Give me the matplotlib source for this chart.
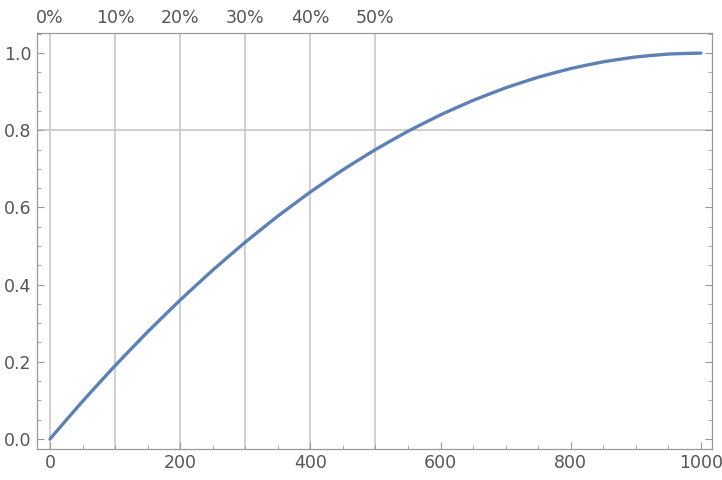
import numpy as np
import matplotlib.pyplot as plt
from matplotlib.ticker import MultipleLocator

# values
x_vals = [0, 25, 50, 75, 100, 125, 150, 175, 200, 225, 250, 275, 300, 325, 350,
          375, 400, 425, 450, 475, 500, 525, 550, 575, 600, 625, 650, 675, 700,
          725, 750, 775, 800, 825, 850, 875, 900, 925, 950, 975, 1000]
y_vals = [0.0, 0.049, 0.0975, 0.144, 0.19, 0.234, 0.2775, 0.319, 0.36, 0.399,
          0.4375, 0.474, 0.51, 0.544, 0.5775, 0.609, 0.64, 0.669, 0.6975, 0.724,
          0.75, 0.774, 0.7975, 0.819, 0.84, 0.859, 0.8775, 0.894, 0.91, 0.924,
          0.9375, 0.949, 0.96, 0.969, 0.9775, 0.984, 0.99, 0.994, 0.9975, 0.999, 1.0]
grid_x = [0, 100, 200, 300, 400, 500]
grid_y = [0.8]
top_labels = ["0%", "10%", "20%", "30%", "40%", "50%"]

line_c = "#5E81B5"
txt_c = "#555555"
axis_c = "#999999"

fig = plt.figure(figsize=(7.22, 4.80), dpi=100)
ax = fig.add_axes([0.0512, 0.0646, 0.9350, 0.8666])

for gx in grid_x:
    ax.axvline(gx, color="#c8c8c8", lw=1.2, zorder=1)
for gy in grid_y:
    ax.axhline(gy, color="#c8c8c8", lw=1.2, zorder=1)

ax.plot(x_vals, y_vals, color=line_c, lw=2.4, zorder=3, solid_capstyle="round")

ax.set_xlim(-20, 1017)
ax.set_ylim(-0.026, 1.052)

ax.set_xticks([0, 200, 400, 600, 800, 1000])
ax.set_yticks([0.0, 0.2, 0.4, 0.6, 0.8, 1.0])
ax.set_yticklabels(["0.0", "0.2", "0.4", "0.6", "0.8", "1.0"])
ax.xaxis.set_minor_locator(MultipleLocator(50))
ax.yaxis.set_minor_locator(MultipleLocator(0.05))

ax.tick_params(which="both", direction="in", colors=axis_c, labelcolor=txt_c,
               labelsize=12.5, right=True, top=False)
ax.tick_params(which="major", length=5, width=0.8)
ax.tick_params(which="minor", length=3, width=0.6)
ax.tick_params(axis="y", pad=4)
for s in ax.spines.values():
    s.set_color(axis_c)
    s.set_linewidth(0.9)

top = ax.twiny()
top.set_xlim(ax.get_xlim())
top.set_xticks(grid_x)
top.set_xticklabels(top_labels)
top.tick_params(axis="x", length=0, labelsize=12.5, labelcolor=txt_c, pad=4)
for s in top.spines.values():
    s.set_visible(False)

fig.savefig("out.png", dpi=100)
